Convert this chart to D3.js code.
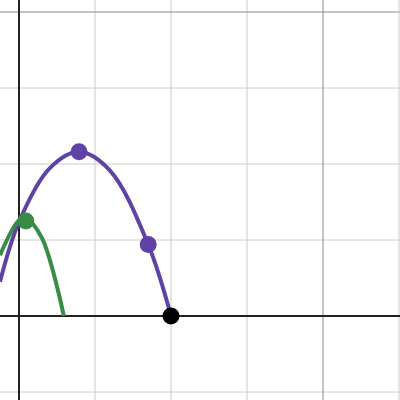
<!DOCTYPE html>
<html><head><meta charset="utf-8">
<script src="https://cdn.jsdelivr.net/npm/d3@7"></script>
<style>body{margin:0;background:#fff}</style></head>
<body><svg id="c" width="400" height="400"></svg>
<script>
const purpleX=[-0.25,0,0.4,0.79,1.2,1.7,2];
const purpleY=[0.45,1.24,1.94,2.16,1.91,0.94,0];
const greenX=[-0.25,0,0.09,0.3,0.59];
const greenY=[0.8,1.26,1.28,1.03,0];
const purplePts=[[0.79,2.16],[1.7,0.94]];
const greenPts=[[0.09,1.25]];
const blackPts=[[2,0]];
const gridVals=[-1,0,1,2,3,4,5];
const svg=d3.select("#c");
const x=d3.scaleLinear().domain([-0.25,(400-19)/76-0.25+0.25]).range([0,400]);
x.domain([-19/76,(400-19)/76]);
const y=d3.scaleLinear().domain([316/76,-84/76]).range([0,400]);
gridVals.forEach(v=>{
  const major=v%4===0&&v!==0;
  svg.append("line").attr("x1",x(v)).attr("x2",x(v)).attr("y1",0).attr("y2",400)
    .attr("stroke",major?"#888":"#ccc").attr("stroke-width",1);
  svg.append("line").attr("y1",y(v)).attr("y2",y(v)).attr("x1",0).attr("x2",400)
    .attr("stroke",major?"#888":"#ccc").attr("stroke-width",1);
});
svg.append("line").attr("x1",x(0)).attr("x2",x(0)).attr("y1",0).attr("y2",400).attr("stroke","#222").attr("stroke-width",2);
svg.append("line").attr("y1",y(0)).attr("y2",y(0)).attr("x1",0).attr("x2",400).attr("stroke","#222").attr("stroke-width",2);
const line=d3.line().x(d=>x(d[0])).y(d=>y(d[1])).curve(d3.curveCatmullRom);
svg.append("path").attr("d",line(purpleX.map((v,i)=>[v,purpleY[i]]))).attr("fill","none").attr("stroke","#6042a6").attr("stroke-width",4);
svg.append("path").attr("d",line(greenX.map((v,i)=>[v,greenY[i]]))).attr("fill","none").attr("stroke","#388c46").attr("stroke-width",4);
function pts(a,c){a.forEach(p=>svg.append("circle").attr("cx",x(p[0])).attr("cy",y(p[1])).attr("r",8.5).attr("fill",c));}
pts(purplePts,"#6042a6");pts(greenPts,"#388c46");pts(blackPts,"#000");
</script></body></html>
